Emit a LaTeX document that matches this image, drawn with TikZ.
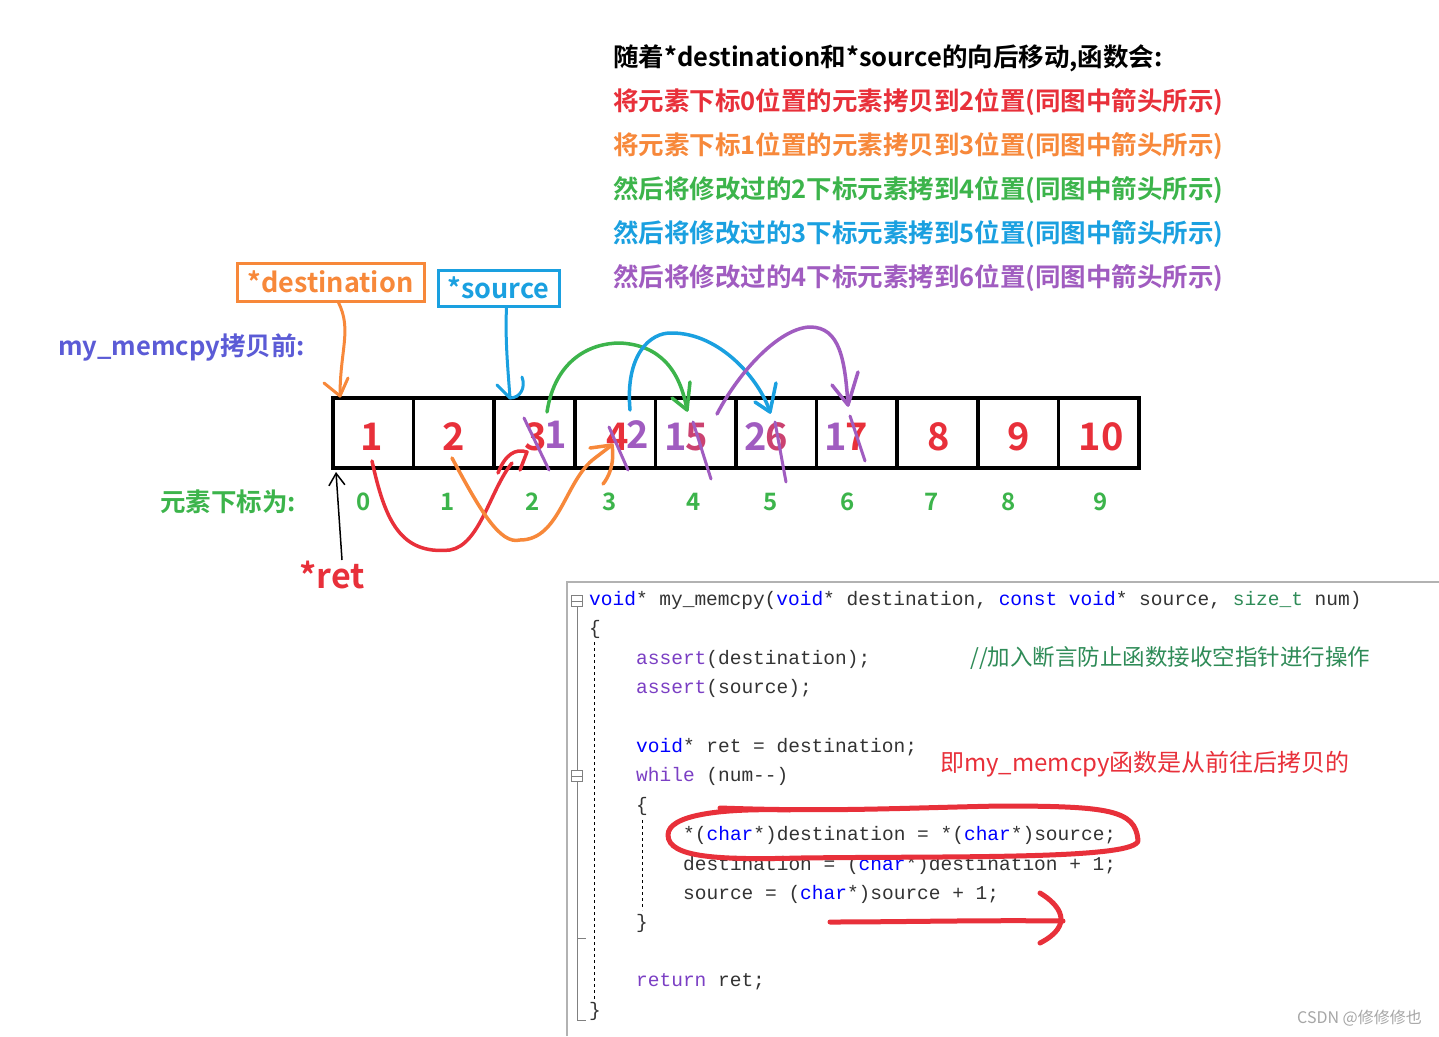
\documentclass[tikz,border=0pt]{standalone}
\usepackage{fontspec}
\newfontfamily\cjkb{Noto Sans CJK SC Bold}
\newfontfamily\cjk{Noto Sans CJK SC}
\newfontfamily\codef{Liberation Mono}
\usetikzlibrary{arrows.meta}
\definecolor{cred}{HTML}{E8303A}
\definecolor{corange}{HTML}{F7883A}
\definecolor{cgreen}{HTML}{3CB44B}
\definecolor{cblue}{HTML}{1AA0E0}
\definecolor{cpurple}{HTML}{A05CC0}
\definecolor{cind}{HTML}{5B5BD6}
\definecolor{kw}{HTML}{0000FF}
\definecolor{kp}{HTML}{7B3FC4}
\definecolor{ctext}{HTML}{333333}
\definecolor{ccom}{HTML}{2E8B57}
\begin{document}
\begin{tikzpicture}[x=1pt,y=-1pt,
  title/.style={anchor=west,font=\cjkb\fontsize{25.5}{25.5}\selectfont,inner sep=0},
  dig/.style={font=\cjkb\fontsize{38}{38}\selectfont,inner sep=0},
  idx/.style={font=\cjkb\fontsize{24}{24}\selectfont,text=cgreen,inner sep=0},
  code/.style={anchor=west,font=\codef\fontsize{19.5}{19.5}\selectfont,text=ctext,inner sep=0},
  pen/.style={line width=3.5pt,line cap=round,line join=round},
  cell/.style={draw,line width=3.5pt,minimum width=80.6pt,minimum height=70pt,inner sep=0}]
\useasboundingbox (0,0) rectangle (1439,1036);
\fill[white] (0,0) rectangle (1439,1036);
% titles
\node[title] (t0) at (613,58) {随着*destination和*source的向后移动,函数会:};
\node[title,text=cred] (t1) at (613,102) {将元素下标0位置的元素拷贝到2位置(同图中箭头所示)};
\node[title,text=corange] (t2) at (613,146) {将元素下标1位置的元素拷贝到3位置(同图中箭头所示)};
\node[title,text=cgreen] (t3) at (613,190) {然后将修改过的2下标元素拷到4位置(同图中箭头所示)};
\node[title,text=cblue] (t4) at (613,234) {然后将修改过的3下标元素拷到5位置(同图中箭头所示)};
\node[title,text=cpurple] (t5) at (613,278) {然后将修改过的4下标元素拷到6位置(同图中箭头所示)};
% labels
\node[title,text=cind] (lb) at (58,347) {my\_memcpy拷贝前:};
\node[title,text=cgreen] (li) at (160,502) {元素下标为:};
\node[draw=corange,line width=3pt,text=corange,font=\cjkb\fontsize{27}{27}\selectfont,minimum width=187pt,minimum height=38pt,inner sep=0] (dst) at (330.5,282) {*destination};
\node[draw=cblue,line width=3pt,text=cblue,font=\cjkb\fontsize{27}{27}\selectfont,minimum width=121pt,minimum height=36pt,inner sep=0] (src) at (498.5,288) {*source};
\node[text=cred,font=\cjkb\fontsize{34}{34}\selectfont,inner sep=0] (ret) at (332,575) {*ret};
% cells
\foreach \i in {0,...,9}{\node[cell] (c\i) at ({373.3+80.6*\i},433) {};}
\node[dig,text=cred] (d0) at (372,437) {1};
\node[dig,text=cred] (d1) at (454,437) {2};
\node[dig,text=cred] at (536,437) {3};\node[dig,text=cpurple] at (556,435) {1};
\node[dig,text=cred] at (618,437) {4};\node[dig,text=cpurple] at (638,435) {2};
\node[dig,text=cpurple] at (676,437) {1};\node[dig,text=cred!60!cpurple] at (697,437) {5};
\node[dig,text=cpurple] at (756,437) {2};\node[dig,text=cred!60!cpurple] at (777,437) {6};
\node[dig,text=cpurple] at (836,437) {1};\node[dig,text=cred] at (857,437) {7};
\node[dig,text=cred] at (939,437) {8};
\node[dig,text=cred] at (1019,437) {9};
\node[dig,text=cred] at (1101,437) {10};
% indices
\foreach \x/\n in {364/0,448/1,533/2,610/3,694/4,771/5,848/6,932/7,1009/8,1101/9}{\node[idx] (i\n) at (\x,502) {\n};}
% pointers
\draw[pen,corange,line width=3pt] (dst.south) ++(8,0) .. controls (352,330) and (340,350) .. (340,396);
\draw[pen,corange,line width=3pt] (324,383) -- (340,396) -- (348,378);
\draw[pen,cblue,line width=3pt] (src.south) ++(8,0) .. controls (505,340) and (508,370) .. (510,398);
\draw[pen,cblue,line width=3pt] (497,385) -- (510,398) .. controls (520,398) and (526,388) .. (522,377);
\draw[line width=1.5pt,-{Straight Barb[length=12pt,width=16pt]}] (342,560) -- (336,472);
% red arrow 0 -> 2
\draw[pen,cred] (372,461) .. controls (385,520) and (400,555) .. (450,550) .. controls (480,545) and (490,490) .. (512,463);
\draw[pen,cred] (498,473) .. controls (505,455) and (515,448) .. (527,452) -- (520,470);
% orange arrow 1 -> 3
\draw[pen,corange] (452,458) .. controls (480,510) and (500,545) .. (520,540) .. controls (560,540) and (565,480) .. (595,458) -- (612,445);
\draw[pen,corange] (590,448) -- (612,445) .. controls (615,465) and (608,478) .. (603,484);
% green 2 -> 4
\draw[pen,cgreen] (547,412) .. controls (555,360) and (590,343) .. (620,343) .. controls (660,345) and (680,370) .. (687,410);
\draw[pen,cgreen] (672,398) -- (687,410) -- (690,382);
% blue 3 -> 5
\draw[pen,cblue] (630,410) .. controls (625,355) and (650,332) .. (672,333) .. controls (720,333) and (760,380) .. (770,412);
\draw[pen,cblue] (755,402) -- (770,412) -- (776,383);
% purple 4 -> 6
\draw[pen,cpurple] (717,414) .. controls (740,370) and (780,328) .. (810,327) .. controls (840,327) and (845,360) .. (848,405);
\draw[pen,cpurple] (832,385) -- (848,405) -- (858,372);
% slashes
\foreach \a/\b in {{(524,418)/(549,470)},{(609,427)/(628,470)},{(693,422)/(711,479)},{(775,422)/(786,482)},{(850,416)/(865,461)}}{\draw[pen,cpurple,line width=3pt] \a -- \b;}
% code box
\draw[gray!60,line width=1.5pt] (567,1036) -- (567,582) -- (1439,582);
\node[draw=gray,line width=0.8pt,minimum size=11pt,inner sep=0] (f1) at (577,601) {};
\draw[gray,line width=0.8pt] (572,601) -- (582,601);
\node[draw=gray,line width=0.8pt,minimum size=11pt,inner sep=0] (f2) at (577,776) {};
\draw[gray,line width=0.8pt] (572,776) -- (582,776);
\draw[gray,line width=0.8pt] (f1.south) -- (f2.north);
\draw[gray,line width=0.8pt] (f2.south) -- (577,938) -- (586,938);
\draw[gray,line width=0.8pt] (577,938) -- (577,1020) -- (586,1020);
\draw[black,dashed,line width=0.8pt] (594,642) -- (594,1000);
\draw[black,dashed,line width=0.8pt] (642,820) -- (642,910);
\node[code] (l1) at (589,600) {\textcolor{kw}{void}* my\_memcpy(\textcolor{kw}{void}* destination, \textcolor{kw}{const} \textcolor{kw}{void}* source, \textcolor{ccom}{size\_t} num)};
\node[code] (l2) at (589,629) {\{};
\node[code] (l3) at (636,659) {\textcolor{kp}{assert}(destination);};
\node[code,text=ccom,font=\cjk\fontsize{22.5}{22.5}\selectfont] (cm) at (970,658) {//加入断言防止函数接收空指针进行操作};
\node[code] (l4) at (636,688) {\textcolor{kp}{assert}(source);};
\node[code] (l5) at (636,747) {\textcolor{kw}{void}* ret = destination;};
\node[code] (l6) at (636,776) {\textcolor{kp}{while} (num--)};
\node[code] (l7) at (636,806) {\{};
\node[code] (l8) at (683,835) {*(\textcolor{kw}{char}*)destination = *(\textcolor{kw}{char}*)source;};
\node[code] (l9) at (683,865) {destination = (\textcolor{kw}{char}*)destination + 1;};
\node[code] (l10) at (683,894) {source = (\textcolor{kw}{char}*)source + 1;};
\node[code] (l11) at (636,923) {\}};
\node[code] (l12) at (636,982) {\textcolor{kp}{return} ret;};
\node[code] (l13) at (589,1011) {\}};
\node[anchor=west,text=cred,font=\cjk\fontsize{24}{24}\selectfont,inner sep=0] (note) at (940,764) {即my\_memcpy函数是从前往后拷贝的};
\node[anchor=east,text=gray!70,font=\cjk\fontsize{16}{16}\selectfont,inner sep=0] (wm) at (1422,1018) {CSDN @修修修也};
% red scribbles
\draw[pen,cred,line width=5pt] (790,810) .. controls (720,808) and (668,815) .. (668,835) .. controls (668,858) and (720,860) .. (800,858) .. controls (950,856) and (1140,860) .. (1138,840) .. controls (1135,810) and (1110,806) .. (1000,806) .. controls (900,808) and (830,812) .. (720,808);
\draw[pen,cred,line width=5pt] (830,922) .. controls (900,922) and (980,920) .. (1063,921);
\draw[pen,cred,line width=5pt] (1040,893) .. controls (1060,905) and (1075,925) .. (1040,943);
\end{tikzpicture}
\end{document}
